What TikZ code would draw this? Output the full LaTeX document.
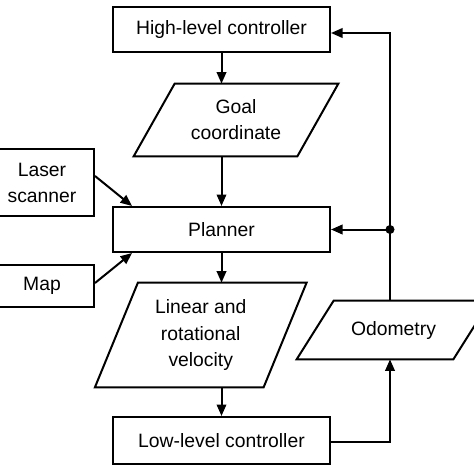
\documentclass[tikz,border=0pt]{standalone}
\usepackage{fontspec}
\setmainfont{Liberation Sans}
\usetikzlibrary{arrows.meta}

\tikzset{
  block/.style={draw, line width=0.4mm, inner sep=0pt, minimum width=43.4mm, minimum height=9mm, align=center},
  side/.style={draw, line width=0.4mm, inner sep=0pt, minimum width=20.8mm, align=center},
  data/.style={inner sep=0pt, align=center},
  flow/.style={-{Triangle[length=2.3mm,width=1.9mm]}, line width=0.4mm},
}

\begin{document}
\begin{tikzpicture}[x=0.2mm, y=-0.2mm, font=\fontsize{11}{14.8}\selectfont]
  \useasboundingbox (0,0) rectangle (474,474);
  % Nodes
  \node[block] (hlc) at (221.5,29.5) {High-level controller};
  \node[data, minimum width=32.6mm, minimum height=14.4mm] (goal) at (236,120) {Goal\\coordinate};
  \node[side, minimum height=13.4mm] (laser) at (42,182.5) {Laser\\scanner};
  \node[block] (planner) at (221.5,229.5) {Planner};
  \node[side, minimum height=8.4mm] (map) at (42,286) {Map};
  \node[data, minimum width=33.6mm, minimum height=20.8mm] (lin) at (200.75,335) {Linear and\\rotational\\velocity};
  \node[block, minimum height=9.4mm] (llc) at (221.5,440.5) {Low-level controller};
  \node[data, minimum width=31.2mm, minimum height=11.6mm] (odo) at (393.5,330) {Odometry};
  \coordinate (tap) at (390,229.5);

  % Slanted outlines of the data nodes
  \foreach \n/\s in {goal/4.1mm, lin/4.3mm, odo/3.7mm}
  {
    \draw[line width=0.4mm] ([xshift=\s]\n.north west) -- ([xshift=\s]\n.north east)
      -- ([xshift=-\s]\n.south east) -- ([xshift=-\s]\n.south west) -- cycle;
  }

  % Edges down the main chain
  \draw[flow] (hlc.south) -- (hlc.south |- goal.north);
  \draw[flow] (planner.north |- goal.south) -- (planner.north);
  \draw[flow] (planner.south) -- (planner.south |- lin.north);
  \draw[flow] (llc.north |- lin.south) -- (llc.north);

  % Sensor inputs to the planner
  \draw[flow] ([yshift=1.3mm]laser.east) -- ([xshift=4mm]planner.north west);
  \draw[flow] ([yshift=0.6mm]map.east) -- ([xshift=4mm]planner.south west);

  % Feedback through odometry
  \draw[flow] ([yshift=-0.3mm]llc.east) -| (tap |- odo.south);
  \draw[flow] (tap |- odo.north) |- ([yshift=-0.7mm]hlc.east);
  \draw[flow] (tap) -- (planner.east);
  \fill (tap) circle (0.9mm);
\end{tikzpicture}
\end{document}
